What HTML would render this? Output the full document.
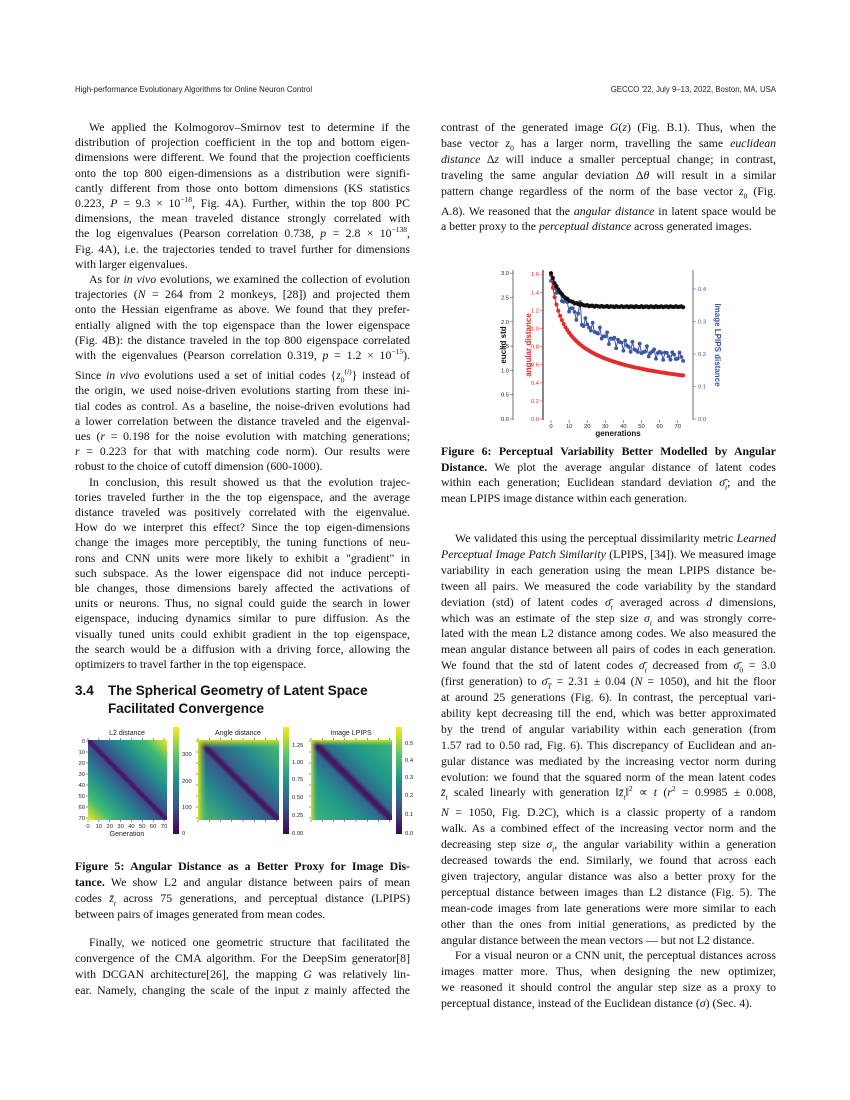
<!DOCTYPE html>
<html><head><meta charset="utf-8">
<style>
html,body{margin:0;padding:0;background:#fff}
#pg{position:relative;width:850px;height:1100px;overflow:hidden;font-family:"Liberation Serif",serif;color:#111}
.l{position:absolute;height:16px;line-height:16px;font-size:11.8px;white-space:nowrap;text-align:justify;text-align-last:justify}
.e{text-align-last:left}
.L{left:75px;width:335px}
.R{left:441px;width:335px}
.i{text-indent:14px}
sup,sub{font-size:7.5px;line-height:0}
.hd{position:absolute;top:85px;font-family:"Liberation Sans",sans-serif;font-size:7.8px;color:#222}
.h3{position:absolute;font-family:"Liberation Sans",sans-serif;font-weight:bold;font-size:13.5px;color:#111}
svg text{font-family:"Liberation Sans",sans-serif}
</style></head><body><div id="pg">
<div class="hd" style="left:75px">High-performance Evolutionary Algorithms for Online Neuron Control</div>
<div class="hd" style="right:74px">GECCO '22, July 9–13, 2022, Boston, MA, USA</div>

<div id="left"></div>
<div class="h3" style="left:75px;top:683px">3.4</div>
<div class="h3" style="left:108px;top:683px">The Spherical Geometry of Latent Space</div>
<div class="h3" style="left:108px;top:701px">Facilitated Convergence</div>

<svg id="fig" width="850" height="1100" style="position:absolute;left:0;top:0" xmlns="http://www.w3.org/2000/svg">
<defs>
<linearGradient id="cb" x1="0" y1="0" x2="0" y2="1"><stop offset="0" stop-color="#fde725"/><stop offset=".25" stop-color="#5ec962"/><stop offset=".5" stop-color="#21918c"/><stop offset=".75" stop-color="#3b528b"/><stop offset="1" stop-color="#440154"/></linearGradient>
<linearGradient id="l2u" x1=".5" y1=".5" x2="1" y2="0"><stop offset="0" stop-color="#440154"/><stop offset=".06" stop-color="#3b4f8a"/><stop offset=".35" stop-color="#23898e"/><stop offset=".7" stop-color="#3fbc73"/><stop offset="1" stop-color="#f2e51f"/></linearGradient>
<linearGradient id="l2d" x1=".5" y1=".5" x2="0" y2="1"><stop offset="0" stop-color="#440154"/><stop offset=".06" stop-color="#3b4f8a"/><stop offset=".35" stop-color="#23898e"/><stop offset=".7" stop-color="#3fbc73"/><stop offset="1" stop-color="#f2e51f"/></linearGradient>
<linearGradient id="agu" x1=".5" y1=".5" x2="1" y2="0"><stop offset="0" stop-color="#440154"/><stop offset=".08" stop-color="#38598c"/><stop offset=".4" stop-color="#25858e"/><stop offset="1" stop-color="#4ac16d"/></linearGradient>
<linearGradient id="agd" x1=".5" y1=".5" x2="0" y2="1"><stop offset="0" stop-color="#440154"/><stop offset=".08" stop-color="#38598c"/><stop offset=".4" stop-color="#25858e"/><stop offset="1" stop-color="#4ac16d"/></linearGradient>
<linearGradient id="lpu" x1=".5" y1=".5" x2="1" y2="0"><stop offset="0" stop-color="#440154"/><stop offset=".1" stop-color="#31688e"/><stop offset=".4" stop-color="#21968b"/><stop offset="1" stop-color="#3aba76"/></linearGradient>
<linearGradient id="lpd" x1=".5" y1=".5" x2="0" y2="1"><stop offset="0" stop-color="#440154"/><stop offset=".1" stop-color="#31688e"/><stop offset=".4" stop-color="#21968b"/><stop offset="1" stop-color="#3aba76"/></linearGradient>
<linearGradient id="topY" x1="0" y1="0" x2="0" y2="1"><stop offset="0" stop-color="#dfe318" stop-opacity=".95"/><stop offset="1" stop-color="#7ad151" stop-opacity="0"/></linearGradient>
<linearGradient id="leftY" x1="0" y1="0" x2="1" y2="0"><stop offset="0" stop-color="#dfe318" stop-opacity=".95"/><stop offset="1" stop-color="#7ad151" stop-opacity="0"/></linearGradient>
</defs>
<g font-size="6.5" fill="#222">
<polygon points="88,740 167,740 167,820" fill="url(#l2u)"/>
<polygon points="88,740 88,820 167,820" fill="url(#l2d)"/>
<text x="127" y="735" text-anchor="middle" font-size="7">L2 distance</text>
<rect x="173" y="727" width="6" height="107" fill="url(#cb)"/>
<polygon points="198,740 279,740 279,820" fill="url(#agu)"/>
<polygon points="198,740 198,820 279,820" fill="url(#agd)"/>
<rect x="198" y="740" width="81" height="8" fill="url(#topY)"/>
<rect x="198" y="740" width="8" height="80" fill="url(#leftY)"/>
<text x="238" y="735" text-anchor="middle" font-size="7">Angle distance</text>
<rect x="283" y="727" width="6" height="107" fill="url(#cb)"/>
<polygon points="311,740 392,740 392,820" fill="url(#lpu)"/>
<polygon points="311,740 311,820 392,820" fill="url(#lpd)"/>
<rect x="311" y="740" width="81" height="6" fill="url(#topY)"/>
<rect x="311" y="740" width="6" height="80" fill="url(#leftY)"/>
<text x="351" y="735" text-anchor="middle" font-size="7">Image LPIPS</text>
<rect x="396" y="727" width="6" height="107" fill="url(#cb)"/>
<text x="127" y="836" text-anchor="middle" font-size="7">Generation</text>
</g>
<g id="hmt" font-size="5.8" fill="#222" stroke-width=".5"></g>

<g id="f6" font-size="5.8"></g>
<text x="618" y="436" text-anchor="middle" font-size="8" font-weight="bold" fill="#111">generations</text>
<text transform="translate(506,345) rotate(-90)" text-anchor="middle" font-size="8" font-weight="bold" fill="#111">euclid std</text>
<text transform="translate(531,345) rotate(-90)" text-anchor="middle" font-size="8" font-weight="bold" fill="#e32b2b">angular distance</text>
<text transform="translate(715,345) rotate(90)" text-anchor="middle" font-size="8" font-weight="bold" fill="#3b57a6">Image LPIPS distance</text>
</svg>

<div id="right"></div>
</div>
<script>
function put(id,cls,start,step,lines,extraAt,extra){
 var h='';
 for(var k=0;k<lines.length;k++){
  var t=lines[k];var c=cls;
  if(t[0]=='>'){c+=' i';t=t.slice(1);}
  if(t[t.length-1]=='$'){c+=' e';t=t.slice(0,-1);}
  var y=start+k*step+(extraAt!=null&&k>=extraAt?extra:0);
  h+='<div class="l '+c+'" style="top:'+(y-8).toFixed(1)+'px">'+t+'</div>';
 }
 document.getElementById(id).insertAdjacentHTML('beforeend',h);
}
put('left','L',127,15.2,[
'>We applied the Kolmogorov–Smirnov test to determine if the',
'distribution of projection coefficient in the top and bottom eigen-',
'dimensions were different. We found that the projection coefficients',
'onto the top 800 eigen-dimensions as a distribution were signifi-',
'cantly different from those onto bottom dimensions (KS statistics',
'0.223, <i>P</i> = 9.3 × 10<sup>−18</sup>, Fig. 4A). Further, within the top 800 PC',
'dimensions, the mean traveled distance strongly correlated with',
'the log eigenvalues (Pearson correlation 0.738, <i>p</i> = 2.8 × 10<sup>−138</sup>,',
'Fig. 4A), i.e. the trajectories tended to travel further for dimensions',
'with larger eigenvalues.$',
'>As for <i>in vivo</i> evolutions, we examined the collection of evolution',
'trajectories (<i>N</i> = 264 from 2 monkeys, [28]) and projected them',
'onto the Hessian eigenframe as above. We found that they prefer-',
'entially aligned with the top eigenspace than the lower eigenspace',
'(Fig. 4B): the distance traveled in the top 800 eigenspace correlated',
'with the eigenvalues (Pearson correlation 0.319, <i>p</i> = 1.2 × 10<sup>−15</sup>).',
'Since <i>in vivo</i> evolutions used a set of initial codes {<i>z</i><sub>0</sub><sup>(<i>i</i>)</sup>} instead of',
'the origin, we used noise-driven evolutions starting from these ini-',
'tial codes as control. As a baseline, the noise-driven evolutions had',
'a lower correlation between the distance traveled and the eigenval-',
'ues (<i>r</i> = 0.198 for the noise evolution with matching generations;',
'<i>r</i> = 0.223 for that with matching code norm). Our results were',
'robust to the choice of cutoff dimension (600-1000).$',
'>In conclusion, this result showed us that the evolution trajec-',
'tories traveled further in the the top eigenspace, and the average',
'distance traveled was positively correlated with the eigenvalue.',
'How do we interpret this effect? Since the top eigen-dimensions',
'change the images more perceptibly, the tuning functions of neu-',
'rons and CNN units were more likely to exhibit a "gradient" in',
'such subspace. As the lower eigenspace did not induce percepti-',
'ble changes, those dimensions barely affected the activations of',
'units or neurons. Thus, no signal could guide the search in lower',
'eigenspace, inducing dynamics similar to pure diffusion. As the',
'visually tuned units could exhibit gradient in the top eigenspace,',
'the search would be a diffusion with a driving force, allowing the',
'optimizers to travel farther in the top eigenspace.$'],16,5);
put('left','L',866,16,[
'<b>Figure 5: Angular Distance as a Better Proxy for Image Dis-</b>',
'<b>tance.</b> We show L2 and angular distance between pairs of mean',
'codes <i>z̄<sub>t</sub></i> across 75 generations, and perceptual distance (LPIPS)',
'between pairs of images generated from mean codes.$']);
put('left','L',942,16,[
'>Finally, we noticed one geometric structure that facilitated the',
'convergence of the CMA algorithm. For the DeepSim generator[8]',
'with DCGAN architecture[26], the mapping <i>G</i> was relatively lin-',
'ear. Namely, changing the scale of the input <i>z</i> mainly affected the']);
put('right','R',127,15.9,[
'contrast of the generated image <i>G</i>(<i>z</i>) (Fig. B.1). Thus, when the',
'base vector <i>z</i><sub>0</sub> has a larger norm, travelling the same <i>euclidean</i>',
'<i>distance</i> Δ<i>z</i> will induce a smaller perceptual change; in contrast,',
'traveling the same angular deviation Δ<i>θ</i> will result in a similar',
'pattern change regardless of the norm of the base vector <i>z</i><sub>0</sub> (Fig.',
'A.8). We reasoned that the <i>angular distance</i> in latent space would be',
'a better proxy to the <i>perceptual distance</i> across generated images.$'],5,4);
put('right','R',451,15.5,[
'<b>Figure 6: Perceptual Variability Better Modelled by Angular</b>',
'<b>Distance.</b> We plot the average angular distance of latent codes',
'within each generation; Euclidean standard deviation <i>σ̄<sub>t</sub></i>; and the',
'mean LPIPS image distance within each generation.$']);
put('right','R',538,15.9,[
'>We validated this using the perceptual dissimilarity metric <i>Learned</i>',
'<i>Perceptual Image Patch Similarity</i> (LPIPS, [34]). We measured image',
'variability in each generation using the mean LPIPS distance be-',
'tween all pairs. We measured the code variability by the standard',
'deviation (std) of latent codes <i>σ̄<sub>t</sub></i> averaged across <i>d</i> dimensions,',
'which was an estimate of the step size <i>σ<sub>t</sub></i> and was strongly corre-',
'lated with the mean L2 distance among codes. We also measured the',
'mean angular distance between all pairs of codes in each generation.',
'We found that the std of latent codes <i>σ̄<sub>t</sub></i> decreased from <i>σ̄</i><sub>0</sub> = 3.0',
'(first generation) to <i>σ̄<sub>T</sub></i> = 2.31 ± 0.04 (<i>N</i> = 1050), and hit the floor',
'at around 25 generations (Fig. 6). In contrast, the perceptual vari-',
'ability kept decreasing till the end, which was better approximated',
'by the trend of angular variability within each generation (from',
'1.57 rad to 0.50 rad, Fig. 6). This discrepancy of Euclidean and an-',
'gular distance was mediated by the increasing vector norm during',
'evolution: we found that the squared norm of the mean latent codes',
'<i>z̄<sub>t</sub></i> scaled linearly with generation ‖<i>z̄<sub>t</sub></i>‖<sup>2</sup> ∝ <i>t</i> (<i>r</i><sup>2</sup> = 0.9985 ± 0.008,',
'<i>N</i> = 1050, Fig. D.2C), which is a classic property of a random',
'walk. As a combined effect of the increasing vector norm and the',
'decreasing step size <i>σ<sub>t</sub></i>, the angular variability within a generation',
'decreased towards the end. Similarly, we found that across each',
'given trajectory, angular distance was also a better proxy for the',
'perceptual distance between images than L2 distance (Fig. 5). The',
'mean-code images from late generations were more similar to each',
'other than the ones from initial generations, as predicted by the',
'angular distance between the mean vectors — but not L2 distance.$',
'>For a visual neuron or a CNN unit, the perceptual distances across',
'images matter more. Thus, when designing the new optimizer,',
'we reasoned it should control the angular step size as a proxy to',
'perceptual distance, instead of the Euclidean distance (<i>σ</i>) (Sec. 4).$'],17,4);

var NS='http://www.w3.org/2000/svg';
function el(g,tag,a,txt){var e=document.createElementNS(NS,tag);for(var k in a)e.setAttribute(k,a[k]);if(txt!=null)e.textContent=txt;g.appendChild(e);return e;}
var hm=document.getElementById('hmt');
for(var v=0;v<=70;v+=10){
 var y=741+v*77/70, x=88+v*76/70;
 el(hm,'text',{x:85,y:y+2,'text-anchor':'end'},String(v));
 el(hm,'text',{x:x,y:828,'text-anchor':'middle'},String(v));
 el(hm,'line',{x1:86,y1:y,x2:88,y2:y,stroke:'#222'});
 el(hm,'line',{x1:x,y1:820,x2:x,y2:822,stroke:'#222'});
 [[198,81],[311,81]].forEach(function(p){var xx=p[0]+v*p[1]/72;
  el(hm,'line',{x1:xx,y1:820,x2:xx,y2:822,stroke:'#222'});
  el(hm,'line',{x1:xx,y1:738,x2:xx,y2:740,stroke:'#222'});
  el(hm,'line',{x1:p[0]-2,y1:741+v*77/70,x2:p[0],y2:741+v*77/70,stroke:'#222'});});
 el(hm,'line',{x1:x,y1:738,x2:x,y2:740,stroke:'#222'});
}
[[300,754],[200,781],[100,807],[0,833]].forEach(function(t){el(hm,'text',{x:182,y:t[1]+2},String(t[0]));});
[['1.25',745],['1.00',762],['0.75',779],['0.50',797],['0.25',815],['0.00',833]].forEach(function(t){el(hm,'text',{x:292,y:t[1]+2},t[0]);});
[['0.5',743],['0.4',760],['0.3',777],['0.2',795],['0.1',814],['0.0',833]].forEach(function(t){el(hm,'text',{x:405,y:t[1]+2},t[0]);});

var f=document.getElementById('f6');
el(f,'line',{x1:513,y1:270,x2:513,y2:420,stroke:'#333','stroke-width':.7});
el(f,'line',{x1:543,y1:270,x2:543,y2:420,stroke:'#111','stroke-width':1});
el(f,'line',{x1:693,y1:270,x2:693,y2:420,stroke:'#333','stroke-width':.7});
for(var i=0;i<=6;i++){var y=419-i*24.3;el(f,'line',{x1:510,y1:y,x2:513,y2:y,stroke:'#333','stroke-width':.5});el(f,'text',{x:509,y:y+2,'text-anchor':'end',fill:'#222'},(i*0.5).toFixed(1));}
for(var i=0;i<=8;i++){var y=419-i*18.1;el(f,'line',{x1:540,y1:y,x2:543,y2:y,stroke:'#e32b2b','stroke-width':.5});el(f,'text',{x:539,y:y+2,'text-anchor':'end',fill:'#e32b2b'},(i*0.2).toFixed(1));}
for(var i=0;i<=4;i++){var y=419-i*32.5;el(f,'line',{x1:693,y1:y,x2:696,y2:y,stroke:'#3b57a6','stroke-width':.5});el(f,'text',{x:698,y:y+2,fill:'#3b57a6'},(i*0.1).toFixed(1));}
for(var g=0;g<=70;g+=10){var x=551+g*1.81;el(f,'line',{x1:x,y1:420,x2:x,y2:423,stroke:'#333','stroke-width':.5});el(f,'text',{x:x,y:428,'text-anchor':'middle',fill:'#222'},String(g));}
var blue=[],red=[],blk=[];
for(var g=0;g<=73;g++){
 var x=551+g*1.81;
 var e=2.31+0.69*Math.exp(-g/6)+0.01*Math.sin(g*2.3);
 var a=1.57*Math.pow(1+g/4,-0.4)+0.02*Math.exp(-g/3);
 var b=0.175+0.25*Math.exp(-g/26)+0.012*Math.sin(g*1.7)+0.008*Math.sin(g*3.1);
 if(g==16)b=0.36;if(g==17)b=0.29;
 blk.push([x,419-e*48.6]);red.push([x,419-a*90.6]);blue.push([x,419-b*325]);
}
function line(arr,c,w,r){el(f,'polyline',{points:arr.map(function(p){return p[0].toFixed(1)+','+p[1].toFixed(1)}).join(' '),fill:'none',stroke:c,'stroke-width':w});arr.forEach(function(p){el(f,'circle',{cx:p[0],cy:p[1],r:r,fill:c});});}
line(blue,'#3b57a6',1,1.9);line(red,'#e32b2b',1.2,2);line(blk,'#111',1.2,2.1);
</script>
</body></html>
